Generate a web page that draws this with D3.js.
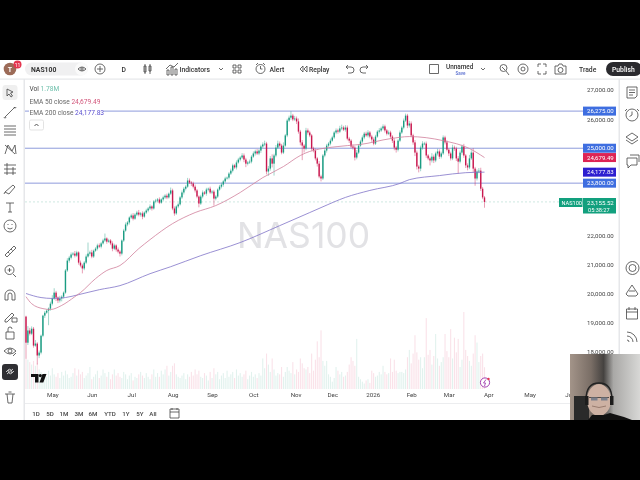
<!DOCTYPE html>
<html>
<head>
<meta charset="utf-8">
<script src="https://cdn.jsdelivr.net/npm/d3@7"></script>
<style>
  html, body { margin: 0; padding: 0; background: #000; }
  svg { display: block; filter: blur(0.3px); }
  text { font-family: Roboto, "Noto Sans", sans-serif; }
</style>
</head>
<body>
<div id="chart"></div>
<script>
// values, one entry per daily bar
const firstOpen = 19216;
const closes = [
  18320,18740,18630,18800,18220,18290,17880,17980,18560,19250,
  19350,19420,19490,19660,19840,20040,19870,19770,19840,19900,
  20040,20800,21140,21240,21350,21380,21310,21420,21070,20970,
  20870,21070,21280,21380,21420,21280,21480,21550,21660,21620,
  21730,21830,21900,21790,21830,21730,21550,21660,21520,21450,
  21380,21830,22170,22380,22450,22620,22690,22580,22720,22790,
  22720,22760,22650,22790,22860,22930,23000,22930,23170,23200,
  23240,23130,23240,23310,23370,23310,23440,23550,22930,22760,
  23000,23070,23310,23480,23610,23680,23890,23820,23790,23680,
  23550,23340,23100,23340,23480,23440,23580,23610,23480,23510,
  23270,23340,23580,23680,23750,23860,23960,23990,24130,24230,
  24410,24340,24510,24610,24680,24750,24610,24470,24510,24540,
  24710,24820,24890,24820,24920,25060,25130,25160,24200,24300,
  24650,24470,24750,25020,25160,25090,24850,25090,25440,25950,
  26050,26120,25990,26020,25920,25570,25200,25090,24990,25610,
  25540,25440,24990,24920,24650,24470,24030,23960,24750,24920,
  25090,25160,25260,25370,25540,25610,25570,25680,25710,25640,
  25710,25330,25260,25060,25020,24680,24850,25090,25230,25370,
  25500,25440,25540,25400,25300,25160,25400,25570,25610,25680,
  25750,25610,25500,25540,25400,25260,25020,24950,25260,25540,
  25710,25950,26120,25780,25850,25440,25200,24850,24370,24300,
  25020,25160,25160,24750,24650,24580,24710,24580,24820,24890,
  24710,24820,25370,25200,24950,24820,24650,25020,24990,24650,
  24540,24850,25060,24750,24410,24340,24650,24850,24300,23960,
  24200,24230,23610,23310,23155.52
];
const wickUp = [
  30,150,90,80,60,120,50,70,40,30,
  60,50,40,70,110,150,60,40,90,50,
  40,50,80,60,70,50,90,60,40,70,
  60,50,70,380,60,90,40,50,60,70,
  50,60,170,40,60,50,70,60,40,70,
  50,40,60,70,50,40,60,80,50,60,
  90,50,70,40,60,50,70,40,50,60,
  50,70,40,60,50,70,40,100,60,70,
  40,60,50,70,60,50,90,70,50,60,
  70,50,40,60,70,50,60,40,70,50,
  60,50,40,60,70,50,60,40,50,70,
  60,50,70,60,50,80,70,60,50,70,
  50,70,60,80,50,60,70,100,60,90,
  80,140,60,90,100,70,60,110,50,60,
  70,150,60,90,70,100,60,80,50,90,
  70,60,50,60,70,50,90,60,50,70,
  60,50,70,60,50,70,60,90,100,60,
  80,70,60,50,70,60,90,50,60,70,
  60,70,80,50,60,70,60,50,80,60,
  70,60,50,70,60,50,80,60,50,70,
  60,70,70,60,90,70,60,80,70,60,
  70,80,60,70,50,60,120,70,60,90,
  70,60,70,60,70,50,60,100,70,60,
  80,70,60,90,50,70,120,80,150,60,
  70,90,100,60,50
];
const wickDown = [
  550,80,60,50,70,40,310,90,60,50,
  80,40,500,70,60,50,120,90,70,100,
  60,40,50,70,60,40,60,50,70,60,
  170,60,50,40,70,60,50,40,60,50,
  60,40,50,70,40,60,90,50,70,60,
  100,60,50,40,60,70,50,60,40,50,
  60,70,90,40,50,60,50,70,40,60,
  60,50,40,70,50,60,40,50,60,80,
  50,60,40,50,70,60,40,50,90,60,
  70,60,130,50,60,40,70,60,50,60,
  240,60,50,40,60,70,50,40,60,50,
  60,50,70,40,60,50,90,120,60,50,
  60,40,70,50,60,80,50,60,100,150,
  70,130,410,60,50,70,60,50,40,60,
  50,70,60,50,90,70,100,500,140,60,
  70,60,80,60,70,100,60,100,50,60,
  70,50,60,40,50,60,70,50,60,50,
  70,60,80,60,70,100,60,50,40,60,
  60,50,70,60,80,60,50,40,60,50,
  60,70,60,50,70,80,90,100,60,50,
  50,60,50,90,70,60,80,120,100,130,
  90,70,60,80,60,170,70,90,60,70,
  80,60,50,70,60,90,70,60,80,90,
  410,60,70,80,90,100,60,50,130,250,
  70,60,80,60,200
];
// volume in millions
const volumes = [
  2.5,2.4,2.2,2.0,2.3,1.9,2.1,1.6,1.4,1.2,
  1.3,1.0,1.5,1.1,1.7,1.2,1.0,1.3,0.9,1.4,
  1.1,1.5,1.2,0.9,1.0,1.3,1.7,1.1,1.6,1.2,
  1.4,0.9,1.1,1.3,1.8,0.8,1.0,1.2,1.5,0.9,
  1.1,1.6,1.3,1.0,1.4,0.8,1.2,1.6,1.1,1.3,
  1.0,0.9,1.4,1.2,0.8,1.1,1.3,0.7,1.0,0.9,
  1.2,1.4,1.1,0.9,1.3,1.0,0.8,1.2,1.6,1.0,
  1.3,1.0,1.5,1.2,1.6,1.9,1.1,1.4,1.9,2.1,
  1.2,1.0,0.9,1.1,1.3,0.8,1.2,1.0,1.4,1.1,
  1.6,1.2,1.5,1.0,0.9,1.3,1.1,0.7,1.4,0.9,
  1.7,1.2,1.4,0.8,1.1,1.3,0.9,1.5,1.0,1.2,
  1.4,0.9,1.6,1.1,1.3,1.0,1.2,1.5,0.8,1.1,
  1.4,1.0,1.2,0.9,1.3,1.1,2.5,1.7,2.9,2.0,
  1.4,2.5,1.6,1.1,1.3,1.2,1.8,1.0,1.4,1.8,
  1.5,1.3,2.2,1.2,1.6,1.4,2.5,2.1,1.7,1.6,
  1.8,1.3,2.9,1.5,2.4,3.9,2.6,4.8,2.3,1.9,
  2.3,1.2,1.0,0.6,0.9,1.8,1.5,1.2,1.4,1.0,
  1.1,1.4,2.0,2.6,2.3,1.9,4.1,1.0,0.8,0.6,
  0.45,0.7,0.8,0.5,1.5,1.3,1.0,1.1,1.4,1.2,
  1.9,1.4,1.2,1.3,2.5,1.4,2.4,1.5,1.3,1.4,
  1.4,1.3,1.6,2.6,3.2,2.1,2.9,4.4,3.0,2.4,
  2.6,1.7,2.6,5.8,2.8,3.2,2.0,2.7,4.5,2.5,
  1.9,2.2,2.6,4.5,3.1,2.6,4.9,2.5,4.2,3.0,
  4.1,1.8,2.4,6.3,3.2,2.7,2.3,1.9,2.9,4.4,
  3.8,2.2,2.7,2.9,1.78
];

// moving averages, read at the bars where the line bends
const ema50Bars = [0,3,9,13,19,26,29,37,43,50,60,66,78,90,101,114,126,137,146,151,171,178,194,204,222,236,244];
const ema50Values = [19900,19660,19490,19460,19600,19900,20040,20520,20800,20970,21550,21860,22410,22790,23030,23480,23990,24370,24750,24890,25090,25130,25330,25400,25260,24990,24679.49];
const ema200Bars = [0,8,14,21,28,39,50,66,77,93,114,135,151,157,170,183,199,204,220,234,244];
const ema200Values = [20010,19870,19840,19870,19970,20140,20280,20690,20930,21310,21760,22340,22790,22960,23310,23550,23790,23920,24060,24160,24177.83];

const levels = [26275, 25000, 23800];
const priceTicks = [27000,26000,22000,21000,20000,19000,18000];
const monthTicks = [14,35,56,78,99,121,143.5,163,184.5,205,225,246,268,289.5];
const monthLabels = ["May","Jun","Jul","Aug","Sep","Oct","Nov","Dec","2026","Feb","Mar","Apr","May","Jun"];
const rangeLabels = ["1D","5D","1M","3M","6M","YTD","1Y","5Y","All"];
const lastPrice = 23155.52;

const upColor = "#1a9c82", downColor = "#c9184f";
const levelColor = "#8e9bdc";

let svg = d3.select("#chart").append("svg").attr("width", 640).attr("height", 480);
let defs = svg.append("defs");

// white app area between the black video bars
svg.append("rect").attr("x", 0).attr("y", 60).attr("width", 640).attr("height", 360).attr("fill", "#fff");

let x = d3.scaleLinear().domain([0, closes.length - 1]).range([26, 484.5]);
let y = d3.scaleLinear().domain([18000, 27000]).range([352, 90]);
let yVol = d3.scaleLinear().domain([0, 6.3]).range([389, 312]);

let bars = closes.map((c, i) => {
  let o = i ? closes[i - 1] : firstOpen;
  return { i: i, open: o, close: c, high: Math.max(o, c) + wickUp[i], low: Math.min(o, c) - wickDown[i], vol: volumes[i], up: c >= o };
});

defs.append("clipPath").attr("id", "plot")
  .append("rect").attr("x", 25).attr("y", 80).attr("width", 558).attr("height", 322);
let plot = svg.append("g").attr("clip-path", "url(#plot)");

// watermark
plot.append("text").attr("x", 303.5).attr("y", 248).attr("text-anchor", "middle")
  .attr("font-size", 35.5).attr("fill", "#e2e2e5").style("font-family", "Inter, Roboto, sans-serif").text("NAS100");

// volume
plot.selectAll(".vol").data(bars).enter().append("rect")
  .attr("class", "vol")
  .attr("x", d => x(d.i) - 0.55)
  .attr("width", 1.1)
  .attr("y", d => yVol(d.vol))
  .attr("height", d => yVol(0) - yVol(d.vol))
  .attr("fill", d => d.up ? "#e2f2ee" : "#fae2e9");

// horizontal levels and the last price line
plot.selectAll(".level").data(levels).enter().append("line")
  .attr("class", "level")
  .attr("x1", 25).attr("x2", 583)
  .attr("y1", d => y(d)).attr("y2", d => y(d))
  .attr("stroke", levelColor).attr("stroke-width", 1);
plot.append("line").attr("x1", 25).attr("x2", 583).attr("y1", y(lastPrice)).attr("y2", y(lastPrice))
  .attr("stroke", "#cfe8e1").attr("stroke-dasharray", "2,2");

// candles
plot.selectAll(".wick").data(bars).enter().append("line")
  .attr("class", "wick")
  .attr("x1", d => x(d.i)).attr("x2", d => x(d.i))
  .attr("y1", d => y(d.high)).attr("y2", d => y(d.low))
  .attr("stroke", d => d.up ? upColor : downColor)
  .attr("stroke-opacity", 0.7)
  .attr("stroke-width", 0.6);
plot.selectAll(".body").data(bars).enter().append("rect")
  .attr("class", "body")
  .attr("x", d => x(d.i) - 0.7)
  .attr("width", 1.4)
  .attr("y", d => y(Math.max(d.open, d.close)))
  .attr("height", d => Math.max(0.8, Math.abs(y(d.open) - y(d.close))))
  .attr("fill", d => d.up ? upColor : downColor);

// EMA lines
let emaLine = d3.line().x(d => x(d[0])).y(d => y(d[1])).curve(d3.curveMonotoneX);
plot.append("path").datum(d3.zip(ema200Bars, ema200Values)).attr("d", emaLine)
  .attr("fill", "none").attr("stroke", "#8074c8").attr("stroke-width", 0.8);
plot.append("path").datum(d3.zip(ema50Bars, ema50Values)).attr("d", emaLine)
  .attr("fill", "none").attr("stroke", "#d0809c").attr("stroke-width", 0.8);

// price axis
let priceAxis = d3.axisRight(y).tickValues(priceTicks).tickSize(0).tickFormat(d3.format(",.2f"));
let priceG = svg.append("g").attr("transform", "translate(587,0)").call(priceAxis);
priceG.select(".domain").remove();
priceG.selectAll("text").attr("x", 0).attr("font-size", 6.1).attr("fill", "#444").style("font-family", "Roboto, sans-serif");

// time axis
let timeAxis = d3.axisBottom(x).tickValues(monthTicks).tickSize(0).tickFormat((d, i) => monthLabels[i]);
let timeG = svg.append("g").attr("transform", "translate(0,391)").call(timeAxis);
timeG.select(".domain").remove();
timeG.selectAll("text").attr("y", 2).attr("font-size", 6.2).attr("fill", "#444").style("font-family", "Roboto, sans-serif");

// price tags on the axis
let tags = [
  { v: 26275, txt: "26,275.00", fill: "#3e6ee0" },
  { v: 25000, txt: "25,000.00", fill: "#3e6ee0" },
  { v: 24679.49, txt: "24,679.49", fill: "#dd2455" },
  { v: 24177.83, txt: "24,177.83", fill: "#2d1fd0" },
  { v: 23800, txt: "23,800.00", fill: "#3e6ee0" }
];
let tagG = svg.selectAll(".tag").data(tags).enter().append("g").attr("class", "tag");
tagG.append("rect").attr("x", 583).attr("width", 33).attr("height", 9)
  .attr("y", d => y(d.v) - 4.5).attr("fill", d => d.fill);
tagG.append("text").attr("x", 587).attr("y", d => y(d.v) + 2.2)
  .attr("font-size", 6.1).attr("fill", "#fff").text(d => d.txt);

const greenTag = "#12a07e";
svg.append("rect").attr("x", 559).attr("y", 198).attr("width", 23.5).attr("height", 9).attr("fill", greenTag);
svg.append("text").attr("x", 561.5).attr("y", 204.8).attr("font-size", 5.6).attr("fill", "#fff").text("NAS100");
svg.append("rect").attr("x", 583).attr("y", 198).attr("width", 33).attr("height", 15.5).attr("fill", greenTag);
svg.append("text").attr("x", 587).attr("y", 204.8).attr("font-size", 6.1).attr("fill", "#fff").text("23,155.52");
svg.append("text").attr("x", 588).attr("y", 211.8).attr("font-size", 5.6).attr("fill", "#fff").text("05:38:27");

// legend at top left
let legendRows = [
  { y: 91, parts: [["Vol", "#444"], [" 1.78M", "#6fc0ac"]] },
  { y: 103.5, parts: [["EMA 50 close", "#666"], [" 24,679.49", "#d2557a"]] },
  { y: 115, parts: [["EMA 200 close", "#666"], [" 24,177.83", "#5a4fd0"]] }
];
svg.append("rect").attr("x", 29).attr("y", 108).attr("width", 74).attr("height", 9).attr("fill", "#fff");
legendRows.forEach(r => {
  let t = svg.append("text").attr("x", 29.5).attr("y", r.y).attr("font-size", 6.6).attr("xml:space", "preserve");
  r.parts.forEach(p => t.append("tspan").attr("fill", p[1]).text(p[0]));
});
svg.append("rect").attr("x", 29.5).attr("y", 120).attr("width", 14).attr("height", 10).attr("rx", 1.5)
  .attr("fill", "#fff").attr("stroke", "#e3e3e3");
svg.append("path").attr("d", "M34.5 126l2-2 2 2").attr("fill", "none").attr("stroke", "#555");

// TradingView logo and the flash badge
svg.append("path").attr("d", "M31 374h7.5v8.5h-3.5v-5.5h-4zM39.5 382.5l3-8.5h4l-3.2 8.5z").attr("fill", "#111");
svg.append("circle").attr("cx", 40.3).attr("cy", 375.6).attr("r", 1.6).attr("fill", "#111");
svg.append("circle").attr("cx", 485).attr("cy", 382.5).attr("r", 4.6).attr("fill", "#fff").attr("stroke", "#a33fb0").attr("stroke-width", 1);
svg.append("path").attr("d", "M486 379.5l-2.5 3.5h2l-1 3").attr("fill", "none").attr("stroke", "#a33fb0").attr("stroke-width", 0.9);
svg.append("circle").attr("cx", 488.5).attr("cy", 379).attr("r", 1.2).attr("fill", "#e5354f");

// --- app chrome ---
let chrome = svg.append("g");
chrome.append("rect").attr("x", 0).attr("y", 78.5).attr("width", 640).attr("height", 1.2).attr("fill", "#e6e7ea");
chrome.append("rect").attr("x", 23.5).attr("y", 79).attr("width", 1.5).attr("height", 341).attr("fill", "#e6e7ea");
chrome.append("rect").attr("x", 618.5).attr("y", 79).attr("width", 1.5).attr("height", 341).attr("fill", "#e6e7ea");
chrome.append("rect").attr("x", 25).attr("y", 403).attr("width", 593).attr("height", 0.8).attr("fill", "#e8e9ec");

// top bar
chrome.append("circle").attr("cx", 10).attr("cy", 69).attr("r", 6.3).attr("fill", "#9c6b58");
chrome.append("text").attr("x", 10).attr("y", 71.5).attr("text-anchor", "middle").attr("font-size", 7).attr("font-weight", 700).attr("fill", "#fff").text("T");
chrome.append("circle").attr("cx", 17.5).attr("cy", 64.5).attr("r", 4).attr("fill", "#e5354f");
chrome.append("text").attr("x", 17.5).attr("y", 66.5).attr("text-anchor", "middle").attr("font-size", 5).attr("fill", "#fff").text("11");
chrome.append("rect").attr("x", 25).attr("y", 62.5).attr("width", 63).attr("height", 13).attr("rx", 6.5).attr("fill", "#f0f0f1");
chrome.append("rect").attr("x", 75).attr("y", 62.5).attr("width", 13).attr("height", 13).attr("rx", 6.5).attr("fill", "#fafafa");

let topLabels = [
  { x: 31, y: 71.5, t: "NAS100", s: 6.8, w: 700, c: "#333" },
  { x: 121.5, y: 71.5, t: "D", s: 6.8, w: 500, c: "#333" },
  { x: 179.5, y: 71.5, t: "Indicators", s: 6.8, w: 500, c: "#333" },
  { x: 269.5, y: 71.5, t: "Alert", s: 6.8, w: 500, c: "#333" },
  { x: 309, y: 71.5, t: "Replay", s: 6.8, w: 500, c: "#333" },
  { x: 446, y: 68.8, t: "Unnamed", s: 6.4, w: 500, c: "#333" },
  { x: 455.5, y: 75, t: "Save", s: 4.6, w: 500, c: "#5a6fd0" },
  { x: 579, y: 71.5, t: "Trade", s: 6.8, w: 500, c: "#333" }
];
chrome.selectAll(".top").data(topLabels).enter().append("text").attr("class", "top")
  .attr("x", d => d.x).attr("y", d => d.y).attr("font-size", d => d.s).attr("font-weight", d => d.w)
  .attr("fill", d => d.c).text(d => d.t);
chrome.append("rect").attr("x", 606).attr("y", 62).attr("width", 36).attr("height", 14).attr("rx", 7).attr("fill", "#2a2a2e");
chrome.append("text").attr("x", 612).attr("y", 71.5).attr("font-size", 6.8).attr("font-weight", 500).attr("fill", "#fff").text("Publish");

// hover box behind the cursor tool
chrome.append("rect").attr("x", 2.5).attr("y", 85).attr("width", 15).attr("height", 15).attr("rx", 3).attr("fill", "#efefef");

// small line icons, all drawn with one stroke style
function icon(d) {
  chrome.append("path").attr("d", d).attr("fill", "none").attr("stroke", "#444").attr("stroke-width", 0.8);
}
const iconPaths = [
  "M78 69q4-4 8 0q-4 4-8 0zM82 69m-1.2 0a1.2 1.2 0 1 0 2.4 0a1.2 1.2 0 1 0-2.4 0", // eye
  "M95 69a5 5 0 1 0 10 0a5 5 0 1 0-10 0M100 66v6M97 69h6", // add
  "M145 64v10M144 66h2v6h-2zM150 64v10M149 66h2v5h-2z", // candle
  "M167 75v-5h2v5zM171 75v-8h2v8zM175 75v-6h2v6zM166 69l4-4 4 2 4-4", // indicators
  "M219 68l2 2 2-2", // chevron
  "M233 65h3v3h-3zM238 65h3v3h-3zM233 70h3v3h-3zM238 70h3v3h-3z", // layouts
  "M256 69a4.5 4.5 0 1 0 9 0a4.5 4.5 0 1 0-9 0M260.5 66v3h2M256 65l2-2M265 65l-2-2", // alert
  "M303 66l-3 3 3 3zM307 66l-3 3 3 3z", // replay
  "M346 67h5a3 3 0 0 1 0 6h-3M346 67l2-2M346 67l2 2", // undo
  "M368 67h-5a3 3 0 0 0 0 6h3M368 67l-2-2M368 67l-2 2", // redo
  "M429.5 64.5h9v9h-9z", // layout box
  "M481 68l2 2 2-2",
  "M500 68a3.5 3.5 0 1 0 7 0a3.5 3.5 0 1 0-7 0M506 71l3 4M502 67l3 3", // search
  "M518 69a5 5 0 1 0 10 0a5 5 0 1 0-10 0M521 69a2 2 0 1 0 4 0a2 2 0 1 0-4 0", // settings
  "M538 67v-3h3M546 67v-3h-3M538 71v3h3M546 71v3h-3", // fullscreen
  "M555 66h3l1-2h3l1 2h3v8h-11zM558 70a2.5 2.5 0 1 0 5 0a2.5 2.5 0 1 0-5 0", // camera
  // left toolbar
  "M7 89l6 3-2.5 1 2 3-1.5 1-2-3-2 2z",
  "M5 117l10-10M5 117m-1 0a1 1 0 1 0 2 0M15 107m-1 0a1 1 0 1 0 2 0",
  "M4 126h12M4 129h12M4 132h12M4 135h12",
  "M5 154l3-9 4 6 3-6 1 9M5 145l10 9",
  "M4 165h12M4 169h12M4 173h12M7 163v12M13 167v8",
  "M5 192l8-7 2 2-6 7zM5 192l-1 2",
  "M6 203h8M10 203v9M8 212h4",
  "M4 226a6 6 0 1 0 12 0a6 6 0 1 0-12 0M8 224v1M12 224v1M7.5 228q2.5 2 5 0",
  "M5 255l9-9 2 2-9 9zM8 252l1.5 1.5M11 249l1.5 1.5",
  "M5 270a4.5 4.5 0 1 0 9 0a4.5 4.5 0 1 0-9 0M13 274l3 3M9.5 268v4M7.5 270h4",
  "M5 300v-5a5 5 0 0 1 10 0v5h-3v-5a2 2 0 0 0-4 0v5z",
  "M5 320l7-7 2 2-7 7h-2zM12 318h5v4h-5z",
  "M6 332h8v7h-8zM8 332v-3a2 2 0 0 1 4 0",
  "M4 351q6-6 12 0q-6 6-12 0M8 351a2 2 0 1 0 4 0a2 2 0 1 0-4 0M13 356l3-3",
  "M5 394h10M7 394l1 9h4l1-9M8.5 392h3",
  // right toolbar
  "M627 87h10v9l-2 2h-8zM629 90h6M629 92.5h6M629 95h4",
  "M626 115a6 6 0 1 0 12 0a6 6 0 1 0-12 0M632 111.5v3.5l-2.5 1.5M627 109l-2 2M637 109l2 2",
  "M632 133l6 4-6 4-6-4zM626 140l6 4 6-4",
  "M627 158h10v7h-6l-3 3v-3h-1zM630 155h9v7",
  "M626 268a6.5 6.5 0 1 0 13 0a6.5 6.5 0 1 0-13 0M629 268a3.5 3.5 0 1 0 7 0a3.5 3.5 0 1 0-7 0",
  "M632 285l6 9-2 2h-8l-2-2zM629 291h6",
  "M626.5 309h11v10h-11zM626.5 312h11M629 307v3M635 307v3",
  "M627 332a10 10 0 0 1 10 10M627 336a6 6 0 0 1 6 6M627 340a2 2 0 0 1 2 2",
  // bottom bar calendar
  "M170 409h9v9h-9zM170 412h9M172 408v2M177 408v2"
];
iconPaths.forEach(icon);
chrome.append("rect").attr("x", 2).attr("y", 364).attr("width", 16).attr("height", 16).attr("rx", 3).attr("fill", "#2f2f33");
chrome.append("path").attr("d", "M7 374l6-5M6 372l2-2a2 2 0 0 1 3 3M14 371l-2 2a2 2 0 0 1-3-3").attr("fill", "none").attr("stroke", "#eee").attr("stroke-width", 0.8);

// range buttons along the bottom
const rangeX = [36, 50, 64, 79, 93, 110, 126, 140, 153];
chrome.selectAll(".range").data(rangeLabels).enter().append("text").attr("class", "range")
  .attr("x", (d, i) => rangeX[i]).attr("y", 415.5).attr("text-anchor", "middle")
  .attr("font-size", 6.2).attr("font-weight", 500).attr("fill", "#444").text(d => d);

// webcam insert
let cam = svg.append("g");
let camGrad = defs.append("linearGradient").attr("id", "camBg");
[["0%", "#a39489"], ["30%", "#7a6e66"], ["48%", "#454240"], ["62%", "#a9a8a6"], ["100%", "#d8d8d6"]]
  .forEach(s => camGrad.append("stop").attr("offset", s[0]).attr("stop-color", s[1]));
cam.append("rect").attr("x", 570).attr("y", 354).attr("width", 70).attr("height", 66).attr("fill", "url(#camBg)");
cam.append("rect").attr("x", 574).attr("y", 396).attr("width", 15).attr("height", 24).attr("fill", "#2a2a2a");
cam.append("ellipse").attr("cx", 599).attr("cy", 400).attr("rx", 12).attr("ry", 16).attr("fill", "#cdb1a3");
cam.append("path").attr("d", "M586 400q0-17 13-17q13 0 13 17").attr("fill", "none").attr("stroke", "#222").attr("stroke-width", 1.4);
cam.append("rect").attr("x", 585).attr("y", 396).attr("width", 3.5).attr("height", 9).attr("fill", "#1c1c1c");
cam.append("rect").attr("x", 610).attr("y", 396).attr("width", 3.5).attr("height", 9).attr("fill", "#1c1c1c");
cam.append("path").attr("d", "M589 397.5h20").attr("stroke", "#333").attr("stroke-width", 0.8);
cam.append("rect").attr("x", 591).attr("y", 397.5).attr("width", 6.5).attr("height", 3).attr("fill", "#7b7f8a");
cam.append("rect").attr("x", 601).attr("y", 397.5).attr("width", 6.5).attr("height", 3).attr("fill", "#7b7f8a");
cam.append("path").attr("d", "M592 406q7 3 14 0").attr("fill", "none").attr("stroke", "#8c6f62").attr("stroke-width", 0.8);
cam.append("path").attr("d", "M588 420l4-5 12 0 6-2 14 4 8 3z").attr("fill", "#111");
</script>
</body>
</html>
